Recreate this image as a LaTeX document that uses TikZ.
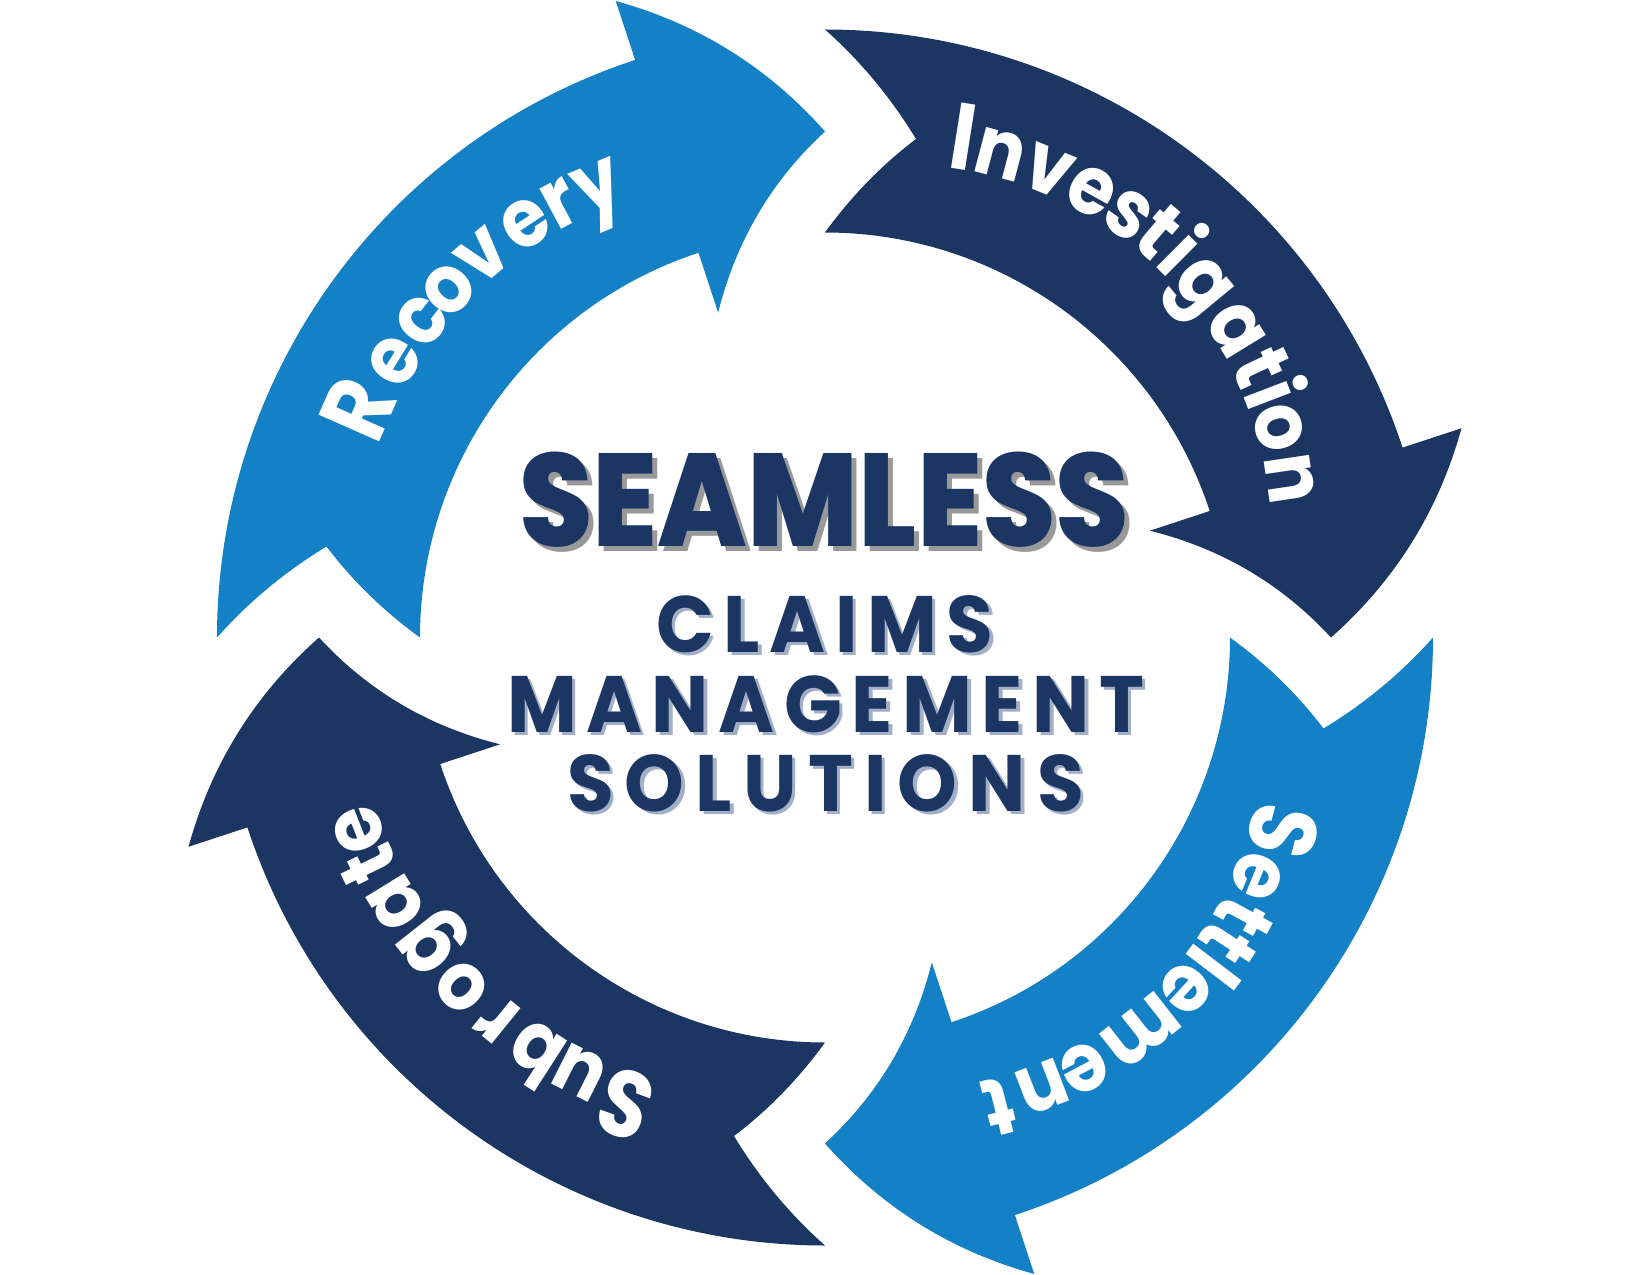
\documentclass[tikz,border=0pt]{standalone}
\usepackage{fontspec}
\usepackage{xcolor}
\usepackage{tikz}

\newfontfamily\wordfont{Poppins Bold}
\newfontfamily\titlefont[FakeStretch=0.9]{Poppins ExtraBold}
\newfontfamily\linefont[FakeStretch=0.95,LetterSpace=12]{Poppins Bold}

\definecolor{navyarrow}{HTML}{1C3664}
\definecolor{bluearrow}{HTML}{1480C6}
\definecolor{titleshade}{HTML}{999999}
\definecolor{lineshade}{HTML}{A3AFC6}

\tikzset{
    wordletter/.style={inner sep=0pt,anchor=base,text=white,transform shape,
        font=\wordfont\fontsize{41}{50}\selectfont},
    titletext/.style={inner sep=0pt,anchor=base,font=\titlefont\fontsize{66}{80}\selectfont},
    linetext/.style={inner sep=0pt,anchor=base,font=\linefont\fontsize{40}{48}\selectfont}
}

\begin{document}
\begin{tikzpicture}[x=0.5pt,y=0.5pt]
    \useasboundingbox (-825,-637.5) rectangle (825,637.5);
    %
    \foreach \rot/\arrowcol in {0/navyarrow,-90/bluearrow,-180/navyarrow,-270/bluearrow}
        \fill[fill=\arrowcol,rotate=\rot] (90:608) arc[start angle=90,end angle=18.2,radius=608]
            -- (18.2:670) .. controls (613.6,126.2) and (570,56.7) .. (0:506)
            .. controls (456.5,53.7) and (396.1,89.1) .. (18.2:342)
            -- (18.2:405) arc[start angle=18.2,end angle=90,radius=405]
            .. controls (26.2,441.1) and (56.2,472.1) .. (91,498.5)
            .. controls (66.2,539.3) and (36.2,575.8) .. cycle;
    %
    \begin{scope}[shift={(75,101.6)}]
        \node[wordletter,rotate=-9,yscale=1.15] (invcap) at (81:371) {I};
        \foreach \ch/\ang [count=\i] in {n/75.2,v/67.8,e/60.9,s/54.6,t/49.6,i/45.2,g/39.5,a/31.5,t/25,i/20.9,o/16,n/8.4}
            \node[wordletter,rotate=\ang-90,xscale=0.9] (inv\i) at (\ang:371) {\ch};
    \end{scope}
    \begin{scope}[shift={(81,-95)}]
        \node[wordletter,rotate=-104.6,yscale=1.15] (setcap) at (-14.6:357) {S};
        \foreach \ch/\ang [count=\i] in {e/-22.3,t/-28.6,t/-33.3,l/-37.3,e/-42.5,m/-51.8,e/-62.1,n/-69,t/-76}
            \node[wordletter,rotate=\ang-90,xscale=0.9] (set\i) at (\ang:357) {\ch};
    \end{scope}
    \begin{scope}[shift={(-37,-24)}]
        \node[wordletter,rotate=-200.2,yscale=1.15] (subcap) at (-110.2:438) {S};
        \foreach \ch/\ang [count=\i] in {u/-116.8,b/-122.8,r/-129,o/-135,g/-141.7,a/-148.4,t/-154,e/-158.6}
            \node[wordletter,rotate=\ang-90,xscale=0.9] (sub\i) at (\ang:438) {\ch};
    \end{scope}
    \begin{scope}[shift={(-57,48)}]
        \node[wordletter,rotate=66.2,yscale=1.15] (reccap) at (156.2:415) {R};
        \foreach \ch/\ang [count=\i] in {e/148.5,c/142.2,o/136.8,v/130.5,e/123.5,r/118.2,y/112.9}
            \node[wordletter,rotate=\ang-90,xscale=0.9] (rec\i) at (\ang:415) {\ch};
    \end{scope}
    %
    \node[titletext,text=titleshade] (seamlessshade) at (4.3,86.5) {SEAMLESS};
    \node[titletext,text=navyarrow] (seamless) at (-0.7,91.5) {SEAMLESS};
    %
    \node[linetext,text=lineshade] (claimsshade) at (3.5,-17.5) {CLAIMS};
    \node[linetext,text=navyarrow] (claims) at (0,-14.5) {CLAIMS};
    \node[linetext,text=lineshade] (managementshade) at (4.2,-97.5) {MANAGEMENT};
    \node[linetext,text=navyarrow] (management) at (0.7,-94.5) {MANAGEMENT};
    \node[linetext,text=lineshade] (solutionsshade) at (4,-177) {\addfontfeature{LetterSpace=14}SOLUTIONS};
    \node[linetext,text=navyarrow] (solutions) at (0.5,-174) {\addfontfeature{LetterSpace=14}SOLUTIONS};
    %
\end{tikzpicture}
\end{document}
